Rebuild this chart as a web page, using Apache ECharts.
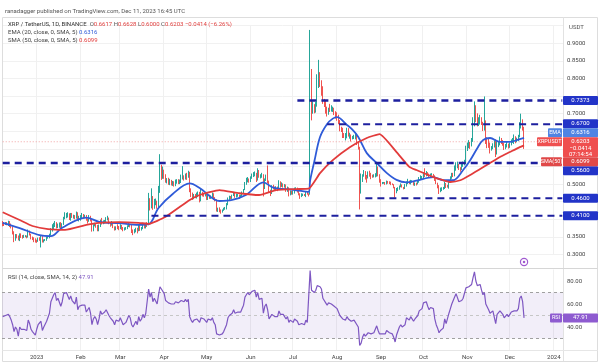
<!DOCTYPE html>
<html><head><meta charset="utf-8">
<script src="https://cdn.jsdelivr.net/npm/echarts/dist/echarts.min.js"></script>
<style>html,body{margin:0;padding:0;background:#fff}#c{width:600px;height:364px}</style>
</head><body><div id="c"></div>
<script>
// ---------- DATA ----------
const startDay = '2022-12-08';
const axisDays = 396;               // Dec 8 2022 .. Jan 7 2024 (time scale extent)
const firstOpen = 0.392;
const closes = [
 0.389,0.386,0.389,0.387,0.390,0.385,0.378,0.363,0.343,0.355,0.352,0.345,0.357,0.352,0.351,0.352,0.352,0.350,0.366,0.358,0.349,0.345,0.343,0.339,
 0.338,0.345,0.343,0.350,0.337,0.340,0.341,0.347,0.349,0.356,0.371,0.377,0.384,0.390,0.380,0.384,0.385,0.378,0.386,0.405,0.410,0.412,0.414,0.405,0.415,0.409,0.410,0.404,0.418,0.398,0.406,
 0.407,0.411,0.409,0.411,0.399,0.396,0.408,0.397,0.373,0.383,0.387,0.382,0.370,0.381,0.397,0.390,0.393,0.395,0.402,0.402,0.391,0.385,0.386,0.378,0.372,0.378,0.377,0.375,
 0.382,0.376,0.372,0.374,0.375,0.380,0.386,0.382,0.370,0.366,0.368,0.373,0.368,0.380,0.371,0.375,0.384,0.378,0.386,0.385,0.450,0.435,0.462,0.437,0.450,0.452,0.436,0.479,0.537,0.526,0.538,
 0.524,0.510,0.511,0.505,0.506,0.500,0.504,0.500,0.510,0.511,0.507,0.507,0.519,0.520,0.518,0.527,0.520,0.532,0.481,0.469,0.461,0.468,0.466,0.471,0.474,0.458,0.473,0.472,0.469,0.470,
 0.460,0.468,0.463,0.465,0.471,0.459,0.455,0.428,0.430,0.426,0.421,0.426,0.430,0.431,0.443,0.459,0.464,0.461,0.468,0.474,0.464,0.469,0.469,0.464,0.468,0.476,0.484,0.503,0.511,0.514,0.509,
 0.518,0.525,0.529,0.530,0.517,0.539,0.522,0.524,0.526,0.489,0.514,0.523,0.508,0.479,0.475,0.493,0.491,0.487,0.490,0.485,0.504,0.495,0.500,0.495,0.496,0.482,0.489,0.470,0.478,0.474,
 0.476,0.487,0.487,0.479,0.471,0.466,0.470,0.470,0.469,0.477,0.473,0.470,0.814,0.717,0.720,0.708,0.726,0.789,0.800,0.791,0.777,0.737,0.730,0.713,0.701,0.713,0.712,0.712,0.714,0.699,0.697,
 0.692,0.679,0.659,0.655,0.641,0.637,0.638,0.652,0.639,0.639,0.629,0.634,0.634,0.637,0.617,0.605,0.508,0.514,0.525,0.534,0.522,0.521,0.531,0.528,0.525,0.522,0.525,0.525,0.547,0.525,0.510,
 0.502,0.504,0.504,0.502,0.507,0.505,0.503,0.500,0.499,0.491,0.476,0.485,0.486,0.494,0.497,0.492,0.488,0.494,0.506,0.508,0.503,0.508,0.508,0.498,0.502,0.501,0.508,0.516,0.518,0.520,
 0.530,0.528,0.533,0.527,0.522,0.526,0.528,0.525,0.512,0.503,0.495,0.484,0.486,0.488,0.489,0.502,0.494,0.493,0.510,0.519,0.528,0.526,0.545,0.555,0.555,0.546,0.544,0.552,0.559,0.560,0.604,
 0.606,0.614,0.610,0.625,0.668,0.712,0.690,0.676,0.678,0.685,0.672,0.660,0.672,0.626,0.622,0.610,0.598,0.604,0.610,0.615,0.586,0.612,0.614,0.627,0.622,0.614,0.603,0.608,0.613,0.608,
 0.614,0.624,0.624,0.628,0.626,0.627,0.636,0.670,0.680,0.6617,0.6203
];
const highs = [
 0.395,0.392,0.392,0.392,0.396,0.395,0.388,0.380,0.366,0.358,0.358,0.354,0.360,0.360,0.355,0.356,0.355,0.354,0.371,0.368,0.359,0.351,0.349,0.346,
 0.342,0.348,0.349,0.354,0.352,0.343,0.344,0.350,0.352,0.359,0.375,0.386,0.390,0.395,0.392,0.388,0.391,0.392,0.389,0.407,0.420,0.418,0.420,0.417,0.418,0.418,0.413,0.412,0.422,0.420,0.410,
 0.412,0.418,0.415,0.413,0.412,0.402,0.412,0.410,0.399,0.386,0.390,0.389,0.384,0.385,0.399,0.404,0.397,0.398,0.406,0.410,0.405,0.392,0.395,0.390,0.380,0.380,0.386,0.381,
 0.386,0.384,0.378,0.377,0.378,0.383,0.392,0.388,0.384,0.371,0.372,0.376,0.376,0.384,0.385,0.378,0.390,0.386,0.390,0.392,0.475,0.460,0.488,0.466,0.458,0.459,0.453,0.495,0.585,0.555,0.550,
 0.541,0.528,0.517,0.518,0.515,0.512,0.509,0.508,0.513,0.514,0.514,0.513,0.527,0.551,0.525,0.530,0.532,0.538,0.535,0.488,0.476,0.472,0.472,0.476,0.479,0.478,0.488,0.478,0.475,0.474,
 0.474,0.470,0.470,0.468,0.476,0.474,0.463,0.457,0.433,0.434,0.428,0.428,0.433,0.435,0.446,0.462,0.467,0.466,0.470,0.476,0.475,0.473,0.472,0.470,0.470,0.479,0.486,0.506,0.518,0.520,0.516,
 0.522,0.530,0.534,0.536,0.532,0.545,0.540,0.528,0.532,0.528,0.516,0.527,0.553,0.510,0.484,0.497,0.498,0.493,0.494,0.493,0.511,0.508,0.505,0.502,0.500,0.499,0.493,0.491,0.482,0.481,
 0.482,0.490,0.491,0.490,0.482,0.474,0.474,0.473,0.472,0.480,0.479,0.474,0.938,0.827,0.735,0.727,0.733,0.812,0.853,0.818,0.795,0.778,0.742,0.738,0.720,0.717,0.728,0.724,0.720,0.717,0.707,
 0.704,0.697,0.682,0.663,0.660,0.645,0.645,0.660,0.659,0.646,0.641,0.637,0.640,0.643,0.641,0.622,0.606,0.530,0.528,0.540,0.537,0.526,0.536,0.538,0.532,0.527,0.528,0.531,0.560,0.550,0.528,
 0.514,0.506,0.506,0.506,0.510,0.509,0.508,0.507,0.502,0.500,0.492,0.489,0.491,0.496,0.502,0.499,0.492,0.500,0.508,0.515,0.510,0.512,0.511,0.508,0.505,0.504,0.512,0.520,0.525,0.523,
 0.534,0.545,0.537,0.534,0.530,0.530,0.531,0.529,0.525,0.514,0.504,0.497,0.490,0.491,0.492,0.507,0.503,0.498,0.512,0.522,0.532,0.532,0.553,0.562,0.564,0.557,0.548,0.557,0.564,0.569,0.609,
 0.618,0.625,0.620,0.631,0.690,0.735,0.724,0.701,0.690,0.697,0.690,0.677,0.749,0.681,0.633,0.630,0.618,0.608,0.616,0.624,0.627,0.622,0.622,0.635,0.631,0.625,0.617,0.614,0.620,0.615,
 0.618,0.627,0.631,0.641,0.636,0.632,0.640,0.676,0.700,0.684,0.6628
];
const lows = [
 0.380,0.381,0.384,0.383,0.381,0.378,0.374,0.357,0.335,0.339,0.346,0.340,0.338,0.347,0.345,0.347,0.349,0.346,0.348,0.354,0.343,0.341,0.335,0.334,
 0.333,0.336,0.339,0.320,0.334,0.334,0.338,0.339,0.345,0.346,0.354,0.365,0.372,0.378,0.374,0.375,0.376,0.370,0.373,0.384,0.400,0.403,0.405,0.398,0.396,0.404,0.402,0.400,0.402,0.395,0.394,
 0.396,0.402,0.403,0.405,0.396,0.388,0.393,0.394,0.365,0.366,0.380,0.376,0.366,0.366,0.378,0.385,0.386,0.388,0.392,0.397,0.386,0.379,0.382,0.375,0.368,0.369,0.372,0.369,
 0.372,0.370,0.366,0.368,0.370,0.372,0.378,0.377,0.361,0.355,0.360,0.363,0.360,0.366,0.367,0.368,0.372,0.374,0.374,0.378,0.383,0.425,0.431,0.427,0.430,0.440,0.430,0.434,0.475,0.512,0.515,
 0.515,0.504,0.502,0.498,0.497,0.496,0.495,0.493,0.494,0.501,0.500,0.500,0.503,0.513,0.510,0.513,0.512,0.518,0.477,0.463,0.455,0.457,0.460,0.459,0.463,0.448,0.451,0.465,0.464,0.465,
 0.455,0.455,0.458,0.458,0.461,0.455,0.451,0.422,0.421,0.420,0.416,0.419,0.424,0.427,0.428,0.440,0.455,0.457,0.458,0.466,0.461,0.462,0.464,0.458,0.461,0.466,0.473,0.483,0.498,0.505,0.504,
 0.506,0.515,0.520,0.522,0.506,0.510,0.518,0.516,0.518,0.465,0.486,0.509,0.503,0.475,0.466,0.472,0.485,0.481,0.482,0.480,0.484,0.490,0.492,0.490,0.490,0.478,0.478,0.465,0.468,0.470,
 0.470,0.473,0.481,0.476,0.468,0.458,0.463,0.466,0.466,0.463,0.470,0.465,0.470,0.681,0.700,0.701,0.703,0.720,0.773,0.776,0.751,0.728,0.719,0.700,0.692,0.697,0.705,0.706,0.705,0.696,0.686,
 0.680,0.670,0.650,0.648,0.631,0.631,0.624,0.630,0.635,0.629,0.621,0.627,0.628,0.627,0.611,0.598,0.428,0.473,0.506,0.521,0.513,0.504,0.516,0.521,0.514,0.518,0.519,0.519,0.521,0.522,0.504,
 0.493,0.500,0.501,0.498,0.499,0.501,0.500,0.497,0.497,0.488,0.462,0.474,0.480,0.484,0.491,0.490,0.485,0.486,0.493,0.500,0.500,0.499,0.504,0.496,0.495,0.496,0.499,0.504,0.513,0.514,
 0.516,0.520,0.522,0.523,0.518,0.520,0.524,0.520,0.509,0.500,0.488,0.472,0.477,0.480,0.484,0.486,0.489,0.490,0.487,0.505,0.515,0.520,0.522,0.538,0.545,0.540,0.535,0.540,0.549,0.553,0.556,
 0.594,0.602,0.600,0.607,0.620,0.664,0.676,0.664,0.665,0.669,0.668,0.651,0.652,0.614,0.602,0.603,0.587,0.595,0.599,0.604,0.577,0.584,0.605,0.610,0.614,0.609,0.597,0.599,0.604,0.601,
 0.603,0.610,0.617,0.614,0.616,0.619,0.622,0.633,0.658,0.652,0.6000
];
const rsiValues = [
 49,48,50,49,51,49,46,42,36,40,38,32,40,38,37,38,38,37,46,43,38,36,35,33,
 38,42,41,45,37,40,41,45,46,52,62,65,68,70,63,65,64,58,62,69,70,70,69,64,67,63,63,60,66,55,58,
 58,59,58,59,53,52,57,52,42,47,49,47,42,47,54,51,52,53,55,55,50,48,48,45,42,46,45,45,
 48,45,42,43,44,47,50,48,42,40,41,45,42,49,45,47,51,48,52,51,73,66,70,62,65,65,60,68,75,73,74,
 69,63,64,61,62,60,61,60,62,62,61,61,63,63,62,64,62,64,49,46,44,46,46,47,48,44,48,48,47,47,
 44,47,46,46,48,44,42,34,35,33,32,34,36,37,42,48,50,49,52,55,52,53,53,52,53,56,59,66,68,70,68,
 69,71,72,72,66,70,64,65,65,52,58,60,55,47,46,51,50,49,50,49,54,51,52,51,51,47,49,44,46,45,
 44,47,47,45,42,41,43,43,42,46,44,43,89,72,72,70,72,76,77,75,73,65,64,61,59,61,60,60,61,58,57,
 56,53,50,49,47,46,46,49,47,47,45,46,46,47,42,40,24,26,31,34,32,32,35,35,34,34,35,35,41,37,34,
 33,34,34,34,37,36,35,34,34,31,27,33,34,40,42,40,39,42,48,49,46,49,49,45,47,47,50,54,55,56,
 61,60,62,58,55,57,58,56,47,42,39,35,37,38,39,47,43,43,52,56,60,59,66,69,68,62,61,63,65,65,74,
 74,75,74,77,83,88,80,76,76,77,72,68,70,60,59,55,52,53,54,55,43,51,51,54,53,51,48,49,51,49,
 51,53,53,54,53,54,56,65,67,62,47.91
];
const emaDates = ['2022-12-08','2022-12-20','2023-01-03','2023-01-11','2023-01-19','2023-02-05','2023-02-14','2023-02-28','2023-03-14','2023-03-21','2023-03-28','2023-04-07','2023-04-19','2023-04-26','2023-05-10','2023-05-19','2023-05-29','2023-06-10','2023-06-17','2023-07-01','2023-07-12','2023-07-13','2023-07-16','2023-07-20','2023-07-25','2023-07-29','2023-08-01','2023-08-08','2023-08-12','2023-08-16','2023-08-22','2023-08-29','2023-09-05','2023-09-12','2023-09-19','2023-09-26','2023-10-08','2023-10-15','2023-10-22','2023-10-29','2023-11-03','2023-11-08','2023-11-12','2023-11-17','2023-11-24','2023-12-01','2023-12-08','2023-12-11'];
const emaValues = [0.390,0.375,0.355,0.352,0.376,0.405,0.393,0.389,0.384,0.386,0.432,0.472,0.502,0.489,0.452,0.455,0.470,0.505,0.490,0.484,0.478,0.510,0.565,0.634,0.671,0.686,0.690,0.668,0.654,0.634,0.588,0.560,0.532,0.512,0.505,0.510,0.520,0.511,0.511,0.540,0.568,0.602,0.625,0.631,0.620,0.620,0.628,0.6316];
const smaDates = ['2022-12-08','2022-12-20','2022-12-29','2023-01-09','2023-01-21','2023-02-05','2023-02-14','2023-02-28','2023-03-14','2023-03-21','2023-04-02','2023-04-19','2023-04-26','2023-05-10','2023-05-24','2023-06-07','2023-06-19','2023-07-03','2023-07-12','2023-07-20','2023-07-29','2023-08-10','2023-08-22','2023-08-31','2023-09-12','2023-09-21','2023-09-26','2023-10-08','2023-10-15','2023-10-20','2023-10-27','2023-11-03','2023-11-10','2023-11-17','2023-11-24','2023-12-01','2023-12-08','2023-12-11'];
const smaValues = [0.420,0.398,0.381,0.372,0.370,0.384,0.390,0.392,0.390,0.387,0.407,0.455,0.469,0.483,0.474,0.469,0.483,0.486,0.487,0.531,0.568,0.605,0.631,0.642,0.591,0.549,0.540,0.520,0.511,0.506,0.511,0.526,0.543,0.560,0.577,0.591,0.605,0.6099];
const levelValues = [0.7373, 0.6700, 0.5600, 0.4600, 0.4100];
const levelStarts = ['2023-07-04','2023-07-25','2022-12-08','2023-08-21','2023-03-23'];
const priceTickLabels = [0.30, 0.35, 0.50, 0.70, 0.80, 0.85, 0.90];
const rsiTickLabels = [40, 60, 80];
const monthNames = ['Jan','Feb','Mar','Apr','May','Jun','Jul','Aug','Sep','Oct','Nov','Dec'];
const legendO = '0.6617', legendH = '0.6628', legendL = '0.6000', legendC = '0.6203', legendChg = '−0.0414 (−6.26%)';

// ---------- STYLES ----------
const FONT = 'Roboto, "Noto Sans", sans-serif';
const levelWidths = [2.6, 2, 2.6, 2, 2];
const UP = '#26a69a', DOWN = '#ef5350';
const EMA_C = '#2f5bd8', SMA_C = '#e23b3b', LVL = '#1d1f9e', LVL_BOX = '#2234c8', RSI_C = '#7e57c2';

// ---------- BUILD ----------
const chart = echarts.init(document.getElementById('c'));
const cats = [];
for (let i = 0; i < axisDays; i++) cats.push(new Date(Date.UTC(2022, 11, 8 + i)).toISOString().slice(0, 10));
const lastCat = cats[cats.length - 1];
const candles = closes.map((c, i) => [i ? closes[i - 1] : firstOpen, c, lows[i], highs[i]]);
const lastClose = closes[closes.length - 1];
const isMonthStart = (idx, v) => String(v).slice(8) === '01';
const monthFmt = v => v.slice(5, 7) === '01' ? v.slice(0, 4) : monthNames[+v.slice(5, 7) - 1];
const near = (arr, v) => arr.some(t => Math.abs(t - v) < 1e-6);

const series = [
  {type: 'candlestick', xAxisIndex: 0, yAxisIndex: 0, data: candles, barMaxWidth: 1, z: 4,
   itemStyle: {color: UP, color0: DOWN, borderColor: UP, borderColor0: DOWN, borderWidth: 1}},
  {type: 'line', xAxisIndex: 0, yAxisIndex: 0, data: emaDates.map((d, i) => [d, emaValues[i]]), smooth: 0.35, symbol: 'none', z: 5,
   lineStyle: {color: EMA_C, width: 1.8}},
  {type: 'line', xAxisIndex: 0, yAxisIndex: 0, data: smaDates.map((d, i) => [d, smaValues[i]]), smooth: 0.15, symbol: 'none', z: 5,
   lineStyle: {color: SMA_C, width: 1.8}},
  {type: 'line', xAxisIndex: 0, yAxisIndex: 0, data: [[cats[0], lastClose], [lastCat, lastClose]], symbol: 'none', z: 2,
   lineStyle: {color: '#f2a3a3', width: 1, type: [1, 2]}}
];
levelValues.forEach((v, i) => series.push({
  type: 'line', xAxisIndex: 0, yAxisIndex: 0, data: [[levelStarts[i], v], [lastCat, v]], symbol: 'none', z: 6,
  lineStyle: {color: LVL, width: levelWidths[i], type: [7, 5]}
}));
series.push({
  type: 'line', xAxisIndex: 1, yAxisIndex: 1, data: rsiValues, symbol: 'none', z: 5,
  lineStyle: {color: RSI_C, width: 1.2},
  markArea: {silent: true, itemStyle: {color: 'rgba(126,87,194,0.10)'}, data: [[{yAxis: 30}, {yAxis: 70}]]},
  markLine: {silent: true, symbol: 'none', label: {show: false},
    lineStyle: {color: '#a0a0a0', width: 1, type: [3, 3]},
    data: [{yAxis: 70}, {yAxis: 50, lineStyle: {color: '#c6c6c6', width: 1, type: [3, 3]}}, {yAxis: 30}]}
});

chart.setOption({
  animation: false,
  textStyle: {fontFamily: FONT},
  grid: [
    {left: 2, width: 561, top: 25.7, height: 228.8, containLabel: false, outerBoundsMode: 'none'},
    {left: 2, width: 561, top: 269.5, height: 80.5, containLabel: false, outerBoundsMode: 'none'}
  ],
  xAxis: [
    {type: 'category', gridIndex: 0, data: cats, boundaryGap: true, axisLine: {show: false}, axisTick: {show: false},
     axisLabel: {show: false}, splitLine: {show: true, interval: isMonthStart, lineStyle: {color: '#f0f0f0'}}},
    {type: 'category', gridIndex: 1, data: cats, boundaryGap: true, axisLine: {show: false}, axisTick: {show: false},
     axisLabel: {interval: isMonthStart, formatter: monthFmt, fontSize: 6, color: '#444', margin: 4, fontFamily: FONT},
     splitLine: {show: true, interval: isMonthStart, lineStyle: {color: '#f0f0f0'}}}
  ],
  yAxis: [
    {type: 'value', gridIndex: 0, position: 'right', min: 0.3, max: 0.95, interval: 0.05, scale: true,
     axisLine: {show: false}, axisTick: {show: false}, splitLine: {lineStyle: {color: '#f1f1f1'}},
     axisLabel: {fontSize: 6, color: '#444', margin: 4, fontFamily: FONT, showMaxLabel: false,
       formatter: v => near(priceTickLabels, v) ? v.toFixed(4) : ''}},
    {type: 'value', gridIndex: 1, position: 'right', min: 20, max: 90, interval: 20,
     axisLine: {show: false}, axisTick: {show: false}, splitLine: {show: false},
     axisLabel: {fontSize: 6, color: '#444', margin: 4, fontFamily: FONT,
       formatter: v => near(rsiTickLabels, v) ? v.toFixed(2) : ''}}
  ],
  series
});

// ---------- PRICE-SCALE LABELS & UI TEXT ----------
const yP = v => chart.convertToPixel({yAxisIndex: 0}, v);
const yR = v => chart.convertToPixel({yAxisIndex: 1}, v);
const xC = c => chart.convertToPixel({xAxisIndex: 0}, c);
const G = [];
const AX = 563, BW = 35, BH = 9;
function box(cy, lines, bg, h) {
  const hh = h || BH;
  G.push({type: 'rect', z: 20, shape: {x: AX, y: cy - 4.5, width: BW, height: hh, r: 1}, style: {fill: bg}});
  lines.forEach((t, k) => G.push({type: 'text', z: 21, style: {x: AX + BW / 2, y: cy + k * 6.5, text: t, fill: '#fff', font: '6px ' + FONT, textAlign: 'center', textVerticalAlign: 'middle'}}));
}
function tag(cy, t, bg, w) {
  G.push({type: 'rect', z: 20, shape: {x: AX - w - 1, y: cy - 4.5, width: w, height: BH, r: 1}, style: {fill: bg}});
  G.push({type: 'text', z: 21, style: {x: AX - 1 - w / 2, y: cy, text: t, fill: '#fff', font: '5.5px ' + FONT, textAlign: 'center', textVerticalAlign: 'middle'}});
}
// frame
G.push({type: 'rect', z: 0, shape: {x: 2.5, y: 17.5, width: 595, height: 344}, style: {fill: 'none', stroke: '#dddddd', lineWidth: 1}});
G.push({type: 'line', z: 1, shape: {x1: AX + 0.5, y1: 17.5, x2: AX + 0.5, y2: 361}, style: {stroke: '#e2e2e2', lineWidth: 1}});
G.push({type: 'line', z: 1, shape: {x1: 2.5, y1: 268.5, x2: 597.5, y2: 268.5}, style: {stroke: '#d6d6d6', lineWidth: 1}});
G.push({type: 'line', z: 1, shape: {x1: 2.5, y1: 350.5, x2: 597.5, y2: 350.5}, style: {stroke: '#e6e6e6', lineWidth: 1}});
// header + legends
G.push({type: 'text', z: 21, style: {x: 5, y: 11, text: 'ranadagger published on TradingView.com, Dec 11, 2023 16:45 UTC', fill: '#555', font: '6px ' + FONT, textVerticalAlign: 'middle'}});
G.push({type: 'text', z: 21, style: {x: 8, y: 24, textVerticalAlign: 'middle', font: '6px ' + FONT,
  text: '{t|XRP / TetherUS, 1D, BINANCE}  {l|O}{v|' + legendO + '} {l|H}{v|' + legendH + '} {l|L}{v|' + legendL + '} {l|C}{v|' + legendC + '} {v|' + legendChg + '}',
  rich: {t: {fill: '#333', font: '6px ' + FONT}, l: {fill: '#555', font: '6px ' + FONT}, v: {fill: '#e0403f', font: '6px ' + FONT}}}});
G.push({type: 'text', z: 21, style: {x: 8, y: 32, textVerticalAlign: 'middle', font: '6px ' + FONT,
  text: '{t|EMA (20, close, 0, SMA, 5)} {v|' + emaValues[emaValues.length - 1].toFixed(4) + '}',
  rich: {t: {fill: '#444', font: '6px ' + FONT}, v: {fill: EMA_C, font: '6px ' + FONT}}}});
G.push({type: 'text', z: 21, style: {x: 8, y: 40, textVerticalAlign: 'middle', font: '6px ' + FONT,
  text: '{t|SMA (50, close, 0, SMA, 5)} {v|' + smaValues[smaValues.length - 1].toFixed(4) + '}',
  rich: {t: {fill: '#444', font: '6px ' + FONT}, v: {fill: SMA_C, font: '6px ' + FONT}}}});
G.push({type: 'text', z: 21, style: {x: 8, y: 277, textVerticalAlign: 'middle', font: '6px ' + FONT,
  text: '{t|RSI (14, close, SMA, 14, 2)} {v|' + rsiValues[rsiValues.length - 1].toFixed(2) + '}',
  rich: {t: {fill: '#444', font: '6px ' + FONT}, v: {fill: RSI_C, font: '6px ' + FONT}}}});
G.push({type: 'text', z: 21, style: {x: 569, y: 27, text: 'USDT', fill: '#555', font: '6px ' + FONT, textVerticalAlign: 'middle'}});

// price-scale boxes with simple overlap avoidance around the last-price box
const py = yP(lastClose);
const pTop = py - 4.5, pBot = pTop + 20;
const entries = levelValues.map(v => ({v, y: yP(v), bg: LVL_BOX, kind: 'lvl'}));
entries.push({v: emaValues[emaValues.length - 1], y: yP(emaValues[emaValues.length - 1]), bg: '#4f84e3', kind: 'ema'});
entries.push({v: smaValues[smaValues.length - 1], y: yP(smaValues[smaValues.length - 1]), bg: '#e04848', kind: 'sma'});
let lim = pTop;
entries.filter(e => e.y < py).sort((a, b) => b.y - a.y).forEach(e => { e.cy = Math.min(e.y, lim - 4.5); lim = e.cy - 4.5; });
lim = pBot;
entries.filter(e => e.y >= py).sort((a, b) => a.y - b.y).forEach(e => { e.cy = Math.max(e.y, lim + 4.5); lim = e.cy + 4.5; });
entries.forEach(e => {
  box(e.cy, [e.v.toFixed(4)], e.bg);
  if (e.kind === 'ema') tag(e.cy, 'EMA', e.bg, 14);
  if (e.kind === 'sma') tag(e.cy, 'SMA(50)', e.bg, 21);
});
box(py, [lastClose.toFixed(4), '−0.0414', '07:14:54'], '#ef4f4f', 20);
tag(py, 'XRPUSDT', '#ef4f4f', 25);
const ry = yR(rsiValues[rsiValues.length - 1]);
box(ry, [rsiValues[rsiValues.length - 1].toFixed(2)], '#8e5bd0');
tag(ry, 'RSI', '#8e5bd0', 12);
// event marker
const ex = xC(cats[closes.length - 1]);
G.push({type: 'circle', z: 21, shape: {cx: ex, cy: 262, r: 3.6}, style: {fill: '#fff', stroke: '#a05ad0', lineWidth: 1.2}});
G.push({type: 'circle', z: 22, shape: {cx: ex, cy: 262, r: 1.3}, style: {fill: '#a05ad0'}});
chart.setOption({graphic: G});
</script></body></html>
